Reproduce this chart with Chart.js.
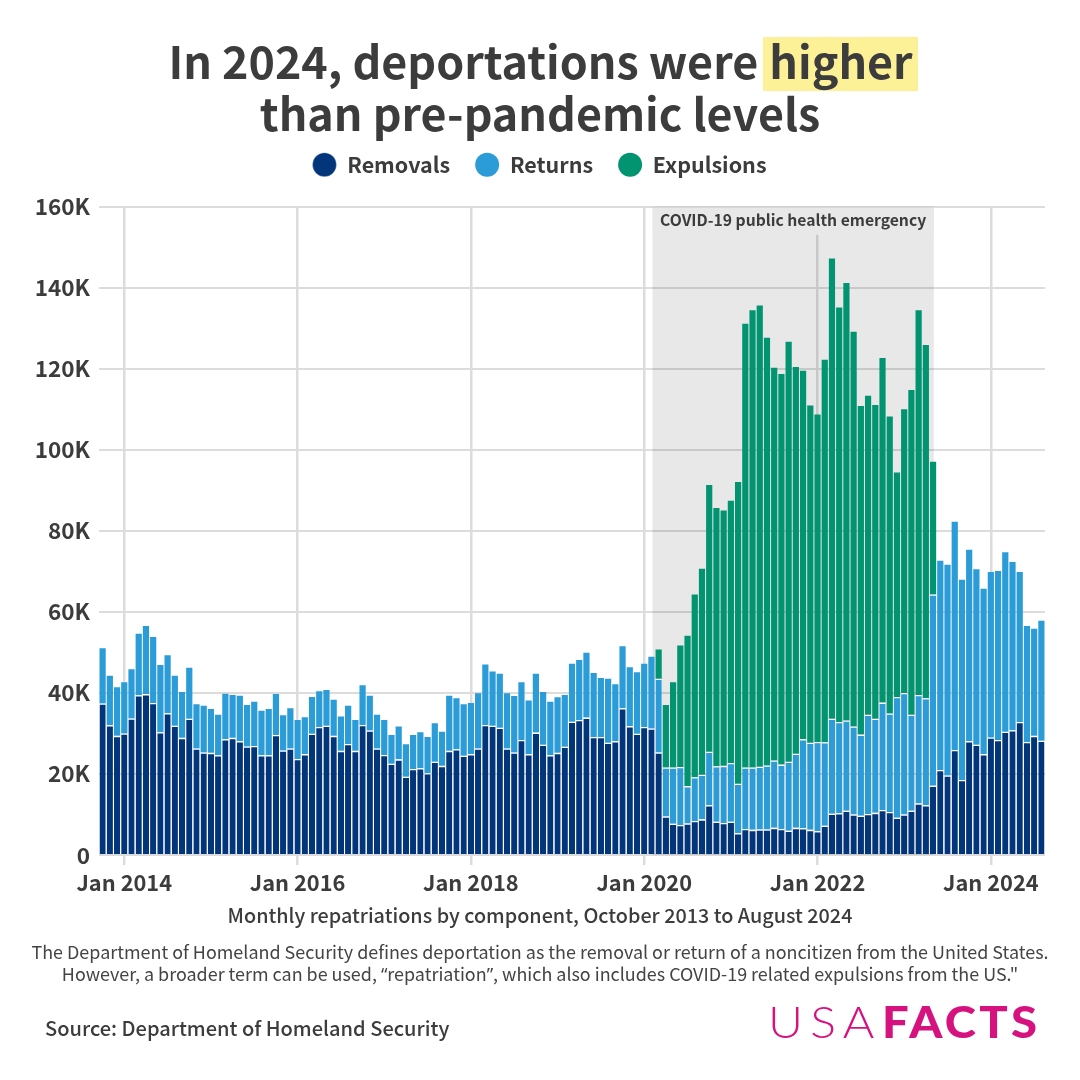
<!DOCTYPE html>
<html>
<head>
<meta charset="utf-8">
<script src="https://cdn.jsdelivr.net/npm/chart.js@4"></script>
<style>
html,body{margin:0;padding:0;background:#fff;width:1080px;height:1080px;overflow:hidden}
body{position:relative;font-family:"Noto Sans CJK SC","Noto Sans",sans-serif;color:#3c3c3c}
canvas{position:absolute;left:0;top:0}
.t{position:absolute;white-space:nowrap}
#title{left:0;width:1080px;top:34px;text-align:center;font-weight:700;font-size:44.8px;line-height:52px}
#title .l1{position:relative;left:3.5px}
#title span span{display:inline-block;position:relative;padding:0 6px;margin-left:-5px}
#hl{position:absolute;left:763px;top:37px;width:155px;height:54px;background:#fdf197}
#axisTitle{left:0;width:1080px;top:902px;text-align:center;font-size:19.8px;line-height:26px;font-weight:500}
#note{left:0;width:1080px;top:940px;text-align:center;font-size:17.93px;line-height:22px;color:#444}
#note i{font-style:normal;font-family:"Noto Sans",sans-serif}
#source{left:45px;top:1015px;font-size:20.05px;line-height:26px;font-weight:500}
#logo{left:768px;top:995px;line-height:54px;font-family:Lato,sans-serif;color:#d6127f}
#logo span{display:inline-block;transform-origin:left center;position:absolute;top:0}
#logo .a{left:0;font-size:43px;font-weight:300;letter-spacing:6.5px;transform:scaleX(1.12)}
#logo .b{left:114px;font-size:43px;font-weight:900;letter-spacing:3px;transform:scaleX(1.1)}
</style>
</head>
<body>
<div id="hl"></div>
<canvas id="c" width="1080" height="1080"></canvas>
<div class="t" id="title"><span class="l1">In 2024, deportations were <span>higher</span></span><br>than pre-pandemic levels</div>
<div class="t" id="axisTitle">Monthly repatriations by component, October 2013 to August 2024</div>
<div class="t" id="note">The Department of Homeland Security defines deportation as the removal or return of a noncitizen from the United States.<br>However, a broader term can be used, <i>“</i>repatriation<i>”</i>, which also includes COVID-19 related expulsions from the US."</div>
<div class="t" id="source">Source: Department of Homeland Security</div>
<div class="t" id="logo"><span class="a">USA</span><span class="b">FACTS</span></div>
<script>
const categories = [
"Oct 2013","Nov 2013","Dec 2013",
"Jan 2014","Feb 2014","Mar 2014","Apr 2014","May 2014","Jun 2014","Jul 2014","Aug 2014","Sep 2014","Oct 2014","Nov 2014","Dec 2014",
"Jan 2015","Feb 2015","Mar 2015","Apr 2015","May 2015","Jun 2015","Jul 2015","Aug 2015","Sep 2015","Oct 2015","Nov 2015","Dec 2015",
"Jan 2016","Feb 2016","Mar 2016","Apr 2016","May 2016","Jun 2016","Jul 2016","Aug 2016","Sep 2016","Oct 2016","Nov 2016","Dec 2016",
"Jan 2017","Feb 2017","Mar 2017","Apr 2017","May 2017","Jun 2017","Jul 2017","Aug 2017","Sep 2017","Oct 2017","Nov 2017","Dec 2017",
"Jan 2018","Feb 2018","Mar 2018","Apr 2018","May 2018","Jun 2018","Jul 2018","Aug 2018","Sep 2018","Oct 2018","Nov 2018","Dec 2018",
"Jan 2019","Feb 2019","Mar 2019","Apr 2019","May 2019","Jun 2019","Jul 2019","Aug 2019","Sep 2019","Oct 2019","Nov 2019","Dec 2019",
"Jan 2020","Feb 2020","Mar 2020","Apr 2020","May 2020","Jun 2020","Jul 2020","Aug 2020","Sep 2020","Oct 2020","Nov 2020","Dec 2020",
"Jan 2021","Feb 2021","Mar 2021","Apr 2021","May 2021","Jun 2021","Jul 2021","Aug 2021","Sep 2021","Oct 2021","Nov 2021","Dec 2021",
"Jan 2022","Feb 2022","Mar 2022","Apr 2022","May 2022","Jun 2022","Jul 2022","Aug 2022","Sep 2022","Oct 2022","Nov 2022","Dec 2022",
"Jan 2023","Feb 2023","Mar 2023","Apr 2023","May 2023","Jun 2023","Jul 2023","Aug 2023","Sep 2023","Oct 2023","Nov 2023","Dec 2023",
"Jan 2024","Feb 2024","Mar 2024","Apr 2024","May 2024","Jun 2024","Jul 2024","Aug 2024"];
const tickLabels = ["Jan 2014","Jan 2016","Jan 2018","Jan 2020","Jan 2022","Jan 2024"];
const removals = [37.4,32.0,29.4,30.0,33.7,39.4,39.7,37.5,30.3,35.0,31.9,28.9,33.6,26.3,25.3,25.2,24.6,28.6,28.9,28.1,26.8,26.9,24.6,24.6,29.6,25.8,26.3,23.7,24.9,29.9,31.6,31.9,29.4,25.7,27.4,25.7,32.1,30.7,26.3,24.7,22.5,23.6,19.3,21.2,21.4,20.2,23.0,22.0,25.7,26.1,24.5,24.9,26.3,32.1,31.9,31.4,26.3,25.3,28.4,24.9,30.2,27.2,24.6,25.2,26.7,32.9,33.3,33.9,29.1,29.1,27.7,28.1,36.2,31.8,29.9,31.6,31.2,25.3,9.5,7.7,7.4,7.8,8.4,8.8,12.3,8.2,7.9,8.2,5.4,6.4,6.2,6.3,6.3,6.7,6.4,6.0,6.7,6.6,6.2,5.9,7.2,10.2,10.3,10.9,10.0,9.7,10.1,10.4,11.1,10.6,9.2,10.0,10.9,12.7,12.3,17.1,21.0,19.6,25.9,18.5,28.1,27.2,24.9,29.0,28.4,30.4,30.8,32.8,27.9,29.4,28.2];
const returns = [13.6,12.2,12.0,12.6,12.1,15.2,16.8,16.3,16.6,14.3,12.3,11.3,12.6,10.9,11.5,10.8,10.0,11.2,10.6,11.2,10.2,10.9,11.0,11.4,10.1,8.7,9.9,9.6,9.1,9.1,8.8,8.8,8.9,8.5,9.4,7.6,9.8,8.6,8.3,8.6,7.1,8.1,8.0,8.4,8.9,8.9,9.5,8.4,13.6,12.6,12.7,12.6,13.6,14.9,13.4,13.3,13.6,13.9,14.2,13.2,14.5,13.0,13.2,13.7,12.8,14.3,14.8,16.0,15.8,14.6,15.8,14.0,15.3,14.5,15.2,15.6,17.7,18.2,12.1,13.9,14.3,9.2,10.8,11.0,13.2,13.7,14.1,14.5,12.2,15.2,15.4,15.5,15.8,16.6,15.9,17.0,18.3,22.0,21.5,22.0,20.6,23.4,22.5,22.3,21.7,20.0,24.5,23.2,26.5,24.3,29.8,30.0,23.7,26.8,26.4,47.2,51.6,52.0,56.3,49.4,47.2,43.3,40.8,40.8,41.7,44.3,41.5,37.0,28.6,26.4,29.6];
const expulsions = [0,0,0,0,0,0,0,0,0,0,0,0,0,0,0,0,0,0,0,0,0,0,0,0,0,0,0,0,0,0,0,0,0,0,0,0,0,0,0,0,0,0,0,0,0,0,0,0,0,0,0,0,0,0,0,0,0,0,0,0,0,0,0,0,0,0,0,0,0,0,0,0,0,0,0,0,0,7.2,15.4,21.0,30.0,37.1,45.1,50.8,65.8,63.7,63.0,64.7,74.4,109.5,112.8,113.8,105.5,96.9,96.4,103.6,95.4,90.9,83.2,80.8,94.4,113.6,102.3,107.9,97.4,81.1,78.7,77.4,85.0,73.3,55.4,70.0,80.1,94.9,87.1,32.7,0,0,0,0,0,0,0,0,0,0,0,0,0,0,0];
const seriesNames = ["Removals","Returns","Expulsions"];
const seriesColors = ["#02357a","#2b9cd8","#029470"];
const emergencyLabel = "COVID-19 public health emergency";
const emergencyFrom = 76.15, emergencyTo = 115.1;
const fontFamily = '"Noto Sans CJK SC","Noto Sans",sans-serif';
const inkColor = "#3c3c3c";
const gridColor = "#dcdcdc";

const emergencyPlugin = {
  id: "emergency",
  beforeLayout(chart) {
    const lg = chart.legend;
    if (!lg._gapPatched) {
      const fit = lg.fit;
      lg.fit = function () { fit.call(this); this.height += 21; };
      lg._gapPatched = true;
    }
  },
  afterLayout(chart) {
    const l = chart.legend;
    l.left += 17; l.right += 17;
    l.adjustHitBoxes();
  },
  beforeDatasetsDraw(chart) {
    const ctx = chart.ctx, x = chart.scales.x, y = chart.scales.y, a = chart.chartArea;
    const l = x.getPixelForValue(emergencyFrom), r = x.getPixelForValue(emergencyTo);
    ctx.save();
    ctx.fillStyle = "rgba(0,0,0,0.09)";
    ctx.fillRect(l, a.top, r - l, a.bottom - a.top);
    const labelBottom = y.getPixelForValue(153);
    ctx.fillStyle = "#e8e8e8";
    ctx.fillRect(l, a.top + 1, r - l, labelBottom - a.top - 1);
    ctx.fillStyle = inkColor;
    ctx.font = "700 15.7px " + fontFamily;
    ctx.textAlign = "center";
    ctx.textBaseline = "middle";
    ctx.fillText(emergencyLabel, (l + r) / 2, y.getPixelForValue(156.6));
    ctx.restore();
  }
};

new Chart(document.getElementById("c"), {
  type: "bar",
  data: {
    labels: categories,
    datasets: [
      { label: seriesNames[0], data: removals, backgroundColor: seriesColors[0], borderColor: "#ffffff", borderWidth: { top: 1.3 } },
      { label: seriesNames[1], data: returns, backgroundColor: seriesColors[1], borderColor: "#ffffff",
        borderWidth: c => expulsions[c.dataIndex] > 0 ? { top: 1.3 } : 0 },
      { label: seriesNames[2], data: expulsions, backgroundColor: seriesColors[2] }
    ]
  },
  plugins: [emergencyPlugin],
  options: {
    responsive: false,
    devicePixelRatio: 1,
    animation: false,
    layout: { padding: { top: 129, right: 35, bottom: 153, left: 0 } },
    datasets: { bar: { categoryPercentage: 0.86, barPercentage: 1 } },
    plugins: {
      tooltip: { enabled: false },
      legend: {
        position: "top",
        onClick: null,
        labels: {
          usePointStyle: true, pointStyle: "circle", pointStyleWidth: 24, boxHeight: 17,
          padding: 25, color: inkColor, font: { family: fontFamily, weight: "700", size: 21.5 }
        }
      }
    },
    scales: {
      x: {
        stacked: true,
        offset: true,
        afterBuildTicks(s) { s.ticks = s.ticks.filter(t => tickLabels.includes(categories[t.value])); },
        afterFit(s) { s.height = 72; },
        grid: { offset: false, color: gridColor, lineWidth: 2.5, tickLength: 10, tickColor: gridColor, drawOnChartArea: true },
        border: { display: false },
        ticks: {
          autoSkip: false, maxRotation: 0, minRotation: 0, padding: 5, color: inkColor,
          font: { family: fontFamily, weight: "700", size: 21.8 }
        }
      },
      y: {
        stacked: true,
        min: 0, max: 160,
        afterFit(s) { s.width = 99; },
        grid: { color: gridColor, lineWidth: 2, drawTicks: false },
        border: { display: false },
        ticks: {
          stepSize: 20, padding: 9, color: inkColor,
          font: { family: fontFamily, weight: "700", size: 22.5 },
          callback: v => v === 0 ? "0" : v + "K"
        }
      }
    }
  }
});
</script>
</body>
</html>
